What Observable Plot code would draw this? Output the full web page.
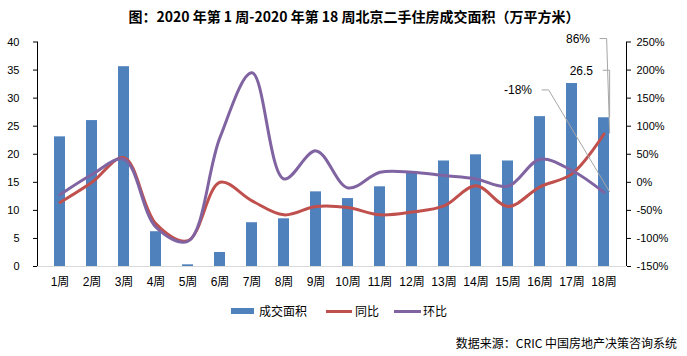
<!DOCTYPE html>
<html>
<head>
<meta charset="utf-8">
<script src="https://cdn.jsdelivr.net/npm/d3@7"></script>
<script src="https://cdn.jsdelivr.net/npm/@observablehq/plot@0.6"></script>
<style>
  body { margin: 0; background: #fff; }
  #wrap { position: relative; width: 687px; height: 356px; font-family: "Liberation Sans", "Noto Sans CJK SC", sans-serif; color: #000; }
  #chart { position: absolute; left: 0; top: 0; }
  #title { position: absolute; top: 6px; left: 0; width: 708px; text-align: center; font-family: "Noto Sans CJK SC", sans-serif; font-weight: bold; font-size: 14px; line-height: 20px; }
  .lg { position: absolute; top: 302px; font-size: 12px; line-height: 18px; font-family: "Noto Sans CJK SC", sans-serif; }
  .sw { position: absolute; }
  #source { position: absolute; top: 334px; right: 10px; font-size: 12px; line-height: 18px; font-family: "Noto Sans CJK SC", sans-serif; }
</style>
</head>
<body>
<div id="wrap">
  <div id="chart"></div>
  <div id="title">图：2020 年第 1 周-2020 年第 18 周北京二手住房成交面积（万平方米）</div>
  <div class="sw" style="left:231px;top:308px;width:23px;height:6px;background:#4F81BD"></div>
  <div class="lg" style="left:259px">成交面积</div>
  <div class="sw" style="left:326px;top:309.5px;width:26px;height:3px;background:#C0504D"></div>
  <div class="lg" style="left:355px">同比</div>
  <div class="sw" style="left:394px;top:309.5px;width:27px;height:3px;background:#8064A2"></div>
  <div class="lg" style="left:423px">环比</div>
  <div id="source">数据来源：CRIC 中国房地产决策咨询系统</div>
</div>
<script>
const weeks = ["1周","2周","3周","4周","5周","6周","7周","8周","9周","10周","11周","12周","13周","14周","15周","16周","17周","18周"];
const area = [23.1, 26.0, 35.6, 6.2, 0.3, 2.5, 7.8, 8.5, 13.3, 12.1, 14.2, 16.6, 18.8, 19.9, 18.8, 26.7, 32.6, 26.5];
const yoy  = [-36, 0, 44, -74, -104, 0, -33, -58, -43, -45, -58, -53, -42, -6, -43, -8, 15, 86];
const mom  = [-22, 14, 41, -80, -105, 80, 195, 6, 56, -10, 18, 18, 12, 6, -7, 41, 21, -18];
const leftTicks = [0, 5, 10, 15, 20, 25, 30, 35, 40];
const rightTicks = [-150, -100, -50, 0, 50, 100, 150, 200, 250];

const FONT = '"Liberation Sans", "Noto Sans CJK SC", sans-serif';
// map percent (right axis) onto left scale domain [0,40]
const toLeft = p => (p + 150) / 10;
const fromLeft = v => Math.round(v * 10 - 150);

const rows = weeks.map((w, i) => ({week: w, area: area[i], yoy: toLeft(yoy[i]), mom: toLeft(mom[i])}));
const last = weeks.length - 1;
const callouts = [
  {week: weeks[last], y: toLeft(yoy[last]), text: yoy[last] + "%", dx: -14, dy: -95},
  {week: weeks[last], y: area[last], text: area[last].toFixed(1), dx: -11, dy: -47},
  {week: weeks[last], y: toLeft(mom[last]), text: mom[last] + "%", dx: -72, dy: -102}
];

const chart = Plot.plot({
  width: 687,
  height: 356,
  marginTop: 41.5,
  marginBottom: 90,
  marginLeft: 37,
  marginRight: 61,
  style: {fontFamily: FONT, fontSize: "11px", color: "#000", background: "transparent", overflow: "visible"},
  x: {type: "band", domain: weeks, paddingInner: 0.66, paddingOuter: 0.33},
  y: {domain: [0, 40]},
  marks: [
    Plot.ruleY([0], {stroke: "#D9D9D9", strokeWidth: 1}),
    Plot.barY(rows, {x: "week", y: "area", fill: "#4F81BD"}),
    Plot.line(rows, {x: "week", y: "yoy", stroke: "#C0504D", strokeWidth: 3, curve: "catmull-rom"}),
    Plot.line(rows, {x: "week", y: "mom", stroke: "#8064A2", strokeWidth: 3, curve: "catmull-rom"}),
    Plot.axisY(leftTicks, {anchor: "left", tickSize: 4, tickPadding: 14, label: null, stroke: "#000", strokeOpacity: 1, strokeWidth: 1}),
    Plot.axisY(rightTicks.map(toLeft), {anchor: "right", tickSize: 4, tickPadding: 6, label: null, stroke: "#000", strokeOpacity: 1, strokeWidth: 1, tickFormat: d => fromLeft(d) + "%"}),
    Plot.axisX({anchor: "bottom", tickSize: 0, tickPadding: 11, label: null, fontSize: 12}),
    ...callouts.map(c => Plot.text([c], {x: "week", y: "y", text: "text", dx: c.dx, dy: c.dy, textAnchor: "end", fontSize: 12, fill: "#000"}))
  ]
});

const sx = chart.scale("x"), sy = chart.scale("y");
const svg = d3.select(chart);
// vertical axis lines at the frame edges
const [x0, x1] = sx.range;
const [yb, yt] = sy.range;
for (const ax of [x0, x1]) {
  svg.append("line")
    .attr("x1", ax + 0.5).attr("x2", ax + 0.5)
    .attr("y1", Math.min(yb, yt)).attr("y2", Math.max(yb, yt))
    .attr("stroke", "#000").attr("stroke-width", 1);
}
// leader lines from callouts to their points
const bx = d3.scaleBand().domain(sx.domain).range(sx.range)
  .paddingInner(sx.paddingInner).paddingOuter(sx.paddingOuter).align(sx.align ?? 0.5);
const ly = d3.scaleLinear().domain(sy.domain).range(sy.range);
for (const c of callouts) {
  const px = bx(c.week) + bx.bandwidth() / 2;
  const py = ly(c.y);
  const lx = px + c.dx + 4, lyy = py + c.dy;
  svg.append("path")
    .attr("d", `M${lx},${lyy}H${lx + 7}L${px},${py}`)
    .attr("fill", "none").attr("stroke", "#A6A6A6").attr("stroke-width", 1);
}
document.getElementById("chart").appendChild(chart);
</script>
</body>
</html>
